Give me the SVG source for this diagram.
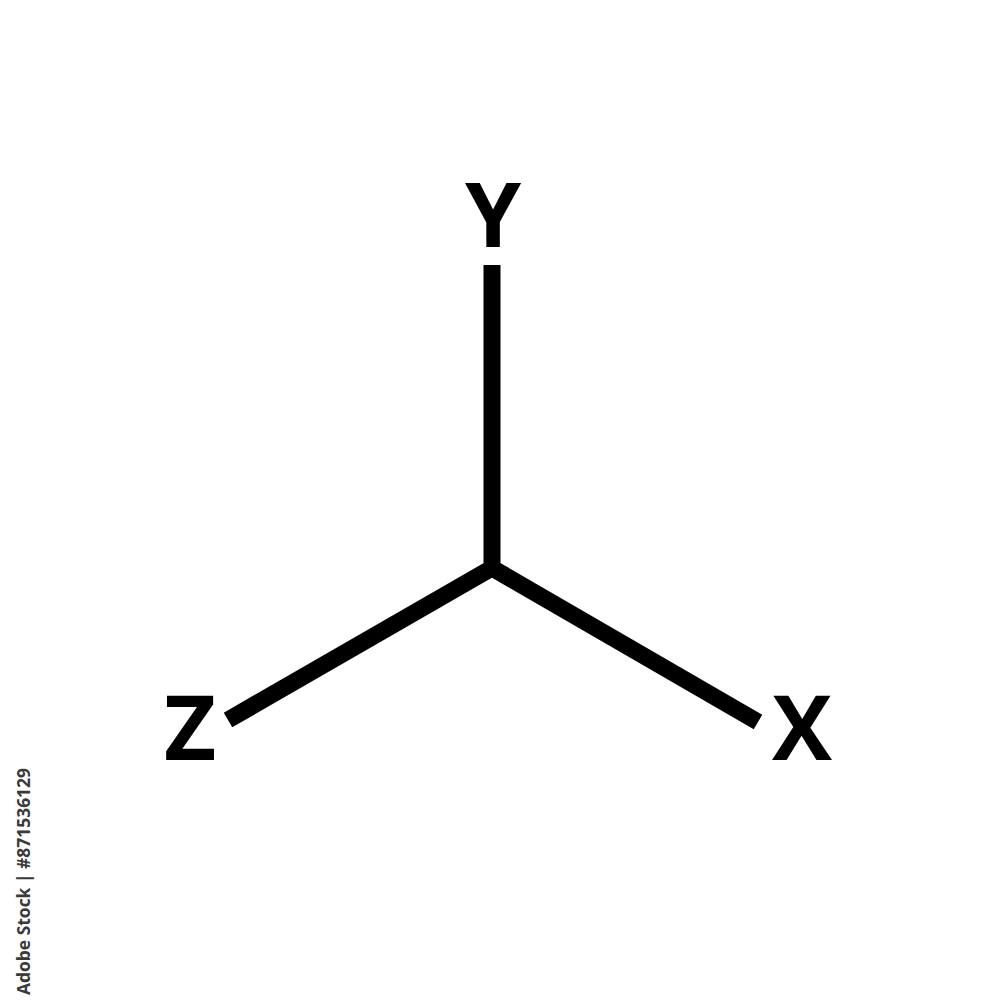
<svg xmlns="http://www.w3.org/2000/svg" width="1000" height="1000" viewBox="0 0 1000 1000">
<style>
.axis{fill:none;stroke:#000;stroke-width:17;stroke-linecap:butt;stroke-linejoin:miter}
.lbl{font-family:"Open Sans","Noto Sans","DejaVu Sans",sans-serif;font-weight:bold;font-size:90px;fill:#000;text-anchor:middle}
.wm{font-family:"Open Sans","Noto Sans",sans-serif;font-weight:bold;font-size:18px;fill:#3a3a3a}
</style>
<rect width="1000" height="1000" fill="#fff"/>
<g id="connectors">
<path class="axis" d="M492,265 L492,572"/>
<path class="axis" d="M228,720 L492,568 L758,722"/>
</g>
<g id="node-y"><text class="lbl" x="493" y="247">Y</text></g>
<g id="node-z"><text class="lbl" x="190" y="760">Z</text></g>
<g id="node-x"><text class="lbl" x="802" y="760">X</text></g>
<text class="wm" transform="translate(30,995) rotate(-90)" textLength="227" lengthAdjust="spacingAndGlyphs">Adobe Stock | #871536129</text>
</svg>
